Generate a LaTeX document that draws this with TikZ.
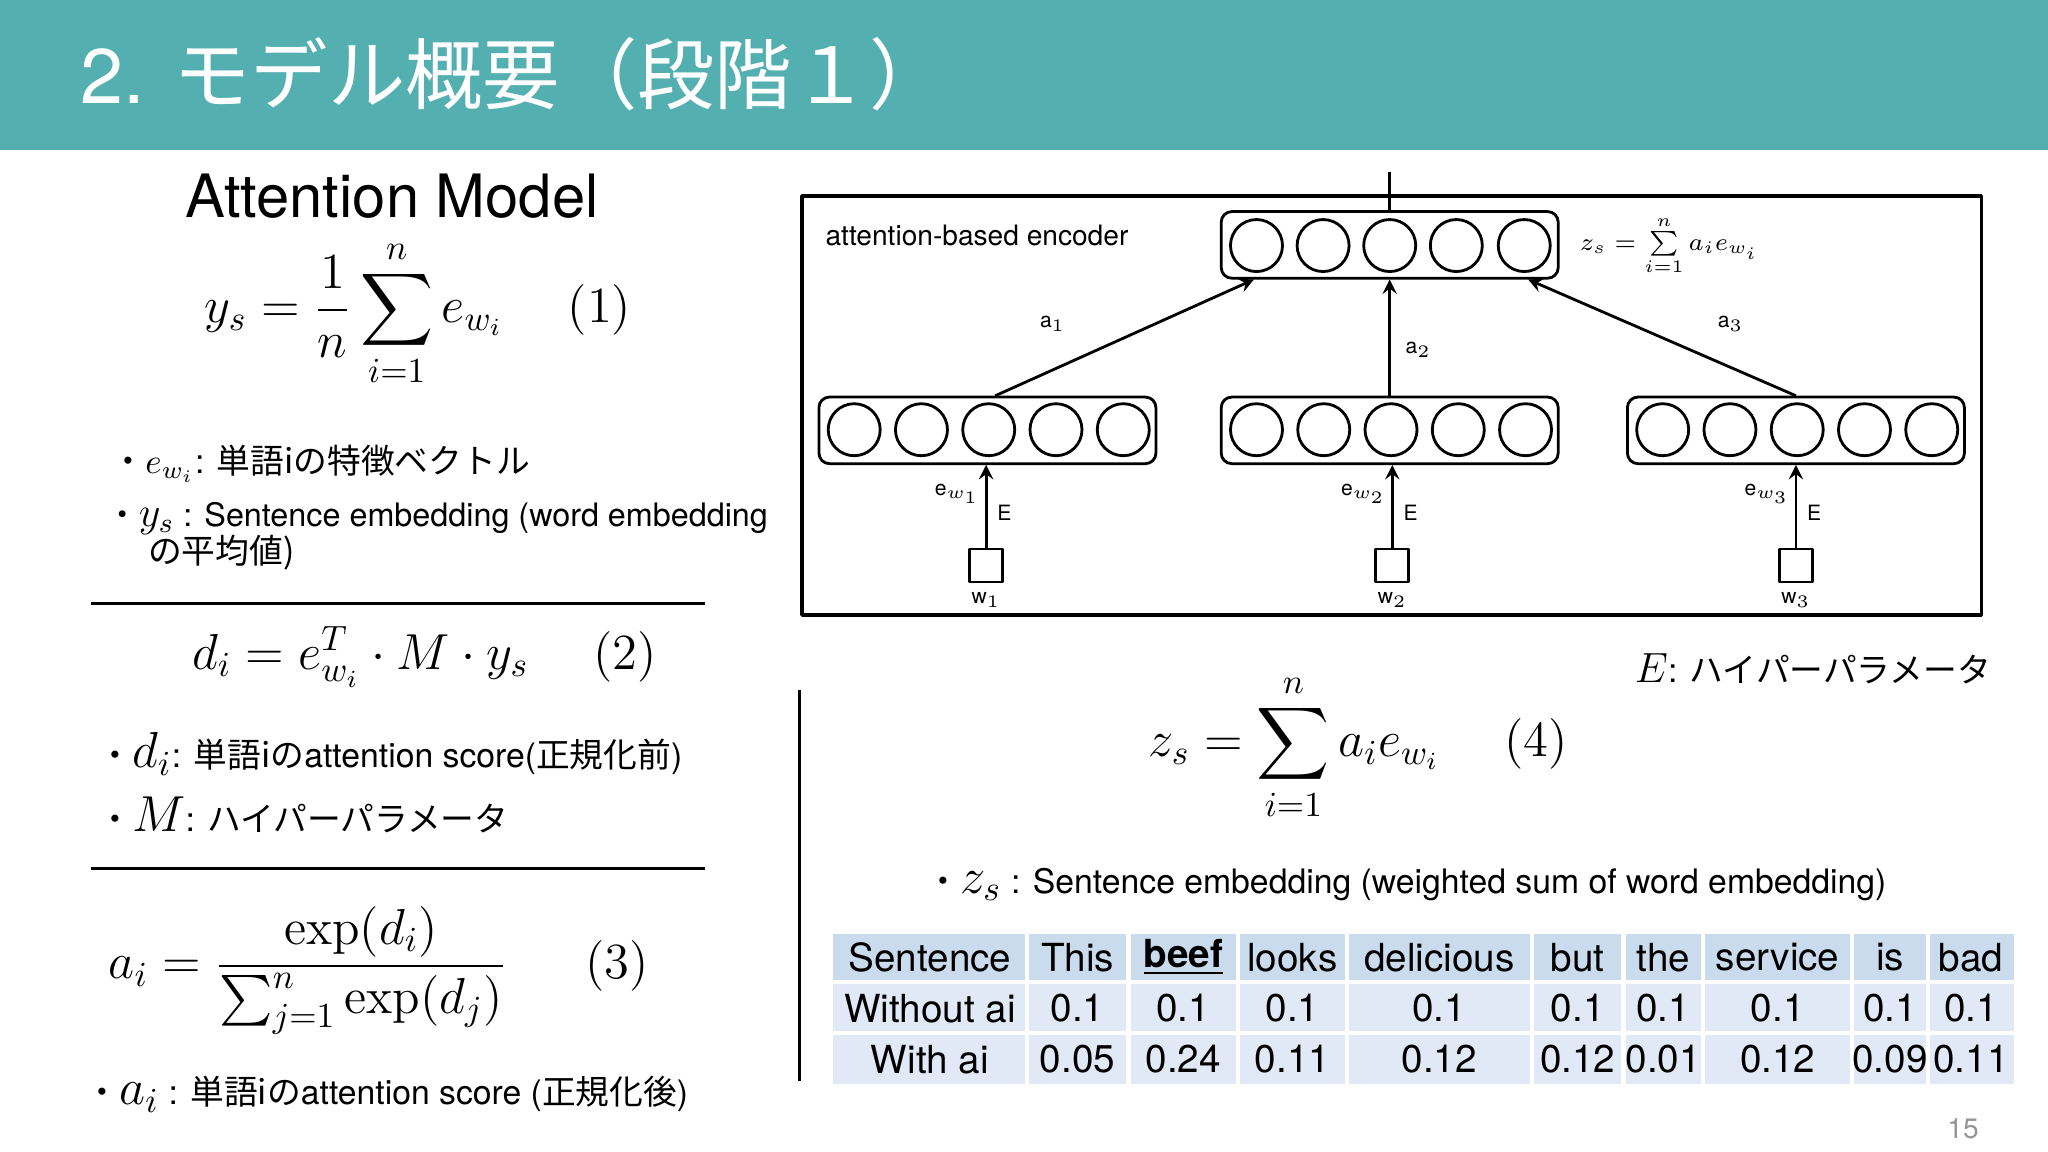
\documentclass[tikz,border=0pt]{standalone}
\usepackage{amsmath}
\usepackage[no-math]{fontspec}
\setmainfont{TeX Gyre Heros}
\newfontfamily\jp{Noto Sans CJK JP}
\usetikzlibrary{positioning}
\definecolor{bandteal}{RGB}{84,176,176}
\definecolor{headblue}{RGB}{203,219,238}
\definecolor{cellblue}{RGB}{224,233,245}
\definecolor{pagenum}{RGB}{150,150,150}
\newcommand{\bul}{{\jp ・}}

\begin{document}
\begin{tikzpicture}[x=0.013061cm, y=-0.013061cm, line join=bevel,
        unitcircle/.style={shape=circle, draw=black, line width=0.8pt, minimum size=0.52cm, inner sep=0pt},
        groupbox/.style={draw=black, line width=0.8pt, rounded corners=3pt},
        wordbox/.style={draw=black, line width=0.8pt, minimum size=0.33cm, inner sep=0pt},
        smalltext/.style={font=\fontsize{6}{7}\selectfont},
        bodytext/.style={font=\fontsize{9.6}{12}\selectfont, anchor=west},
        cell/.style={font=\fontsize{11}{13}\selectfont}]
        \useasboundingbox (0,0) rectangle (1568,882);
        % Title band
        \fill[bandteal] (0,0) rectangle (1568,115);
        \node[anchor=west, text=white, font=\fontsize{22}{26}\selectfont] (title) at (52,57) {2. {\jp モデル概要（段階１）}};
        % Encoder figure background
        \fill[white] (584,132) rectangle (1568,495);
        % Left column
        \node[font=\fontsize{17}{20}\selectfont] (heading) at (300,150) {Attention Model};
        \node[font=\Large] (eqone) at (320,240) {$\displaystyle y_s=\frac{1}{n}\sum_{i=1}^{n}e_{w_i}\quad\ (1)$};
        \node[bodytext] (bulleta) at (76,355) {\bul$e_{w_i}$: {\jp 単語iの特徴ベクトル}};
        \node[bodytext, font=\fontsize{9.2}{12}\selectfont] (bulletb) at (72,397) {\bul{\large$y_s$} : Sentence embedding (word embedding};
        \node[bodytext] (bulletc) at (104,423) {\jp の平均値)};
        \draw[line width=0.8pt] (70,462) -- (540,462);
        \node[font=\Large] (eqtwo) at (325,503) {$d_i=e_{w_i}^{T}\cdot M\cdot y_s\quad\ (2)$};
        \node[bodytext] (bulletd) at (66,577) {\bul{\Large$d_i$}: {\jp 単語iの}attention score({\jp 正規化前})};
        \node[bodytext] (bullete) at (66,624) {\bul{\Large$M$}: {\jp ハイパーパラメータ}};
        \draw[line width=0.8pt] (70,665) -- (540,665);
        \node[font=\Large] (eqthree) at (290,743) {$a_i=\dfrac{\exp(d_i)}{\sum_{j=1}^{n}\exp(d_j)}\quad\ \ (3)$};
        \node[bodytext] (bulletf) at (56,838) {\bul{\Large$a_i$} : {\jp 単語iの}attention score ({\jp 正規化後})};
        \draw[line width=0.8pt] (612,528) -- (612,828);
        % Encoder figure
        \draw[line width=1pt] (614,150) rectangle (1517,471);
        \node[font=\fontsize{8}{9}\selectfont] (enc) at (748,180) {attention-based encoder};
        \draw[groupbox] (935,162) rectangle (1193,213);
        \foreach \i/\x in {1/962,2/1013,3/1064,4/1115,5/1167}
          \node[unitcircle] (t\i) at (\x,188) {};
        \draw[line width=0.8pt] (1064,132) -- (1064,162);
        \node[font=\scriptsize, anchor=west] (zsum) at (1200,188) {$z_s=\sum\limits_{i=1}^{n}a_ie_{w_i}$};
        \foreach \g/\x in {1/627,2/935,3/1246} {
          \draw[groupbox] (\x,304) rectangle ++(258,51);
          \foreach \k in {1,...,5}
            \node[unitcircle] (b\g\k) at (\x+27+51.5*\k-51.5,329) {};
        }
        \coordinate (topl) at (960,214);
        \coordinate (topm) at (1064,214);
        \coordinate (topr) at (1170,214);
        \coordinate (botl) at (762,303);
        \coordinate (botm) at (1064,303);
        \coordinate (botr) at (1375,303);
        \draw[-stealth, line width=0.8pt] (botl) -- (topl);
        \draw[-stealth, line width=0.8pt] (botm) -- (topm);
        \draw[-stealth, line width=0.8pt] (botr) -- (topr);
        \node[smalltext] (aone) at (806,248) {a$_1$};
        \node[smalltext] (atwo) at (1086,268) {a$_2$};
        \node[smalltext] (athree) at (1325,248) {a$_3$};
        \foreach \g/\x in {1/755,2/1066,3/1375} {
          \node[wordbox] (w\g) at (\x,433) {};
          \node[smalltext, below=-1pt of w\g] {w$_\g$};
          \coordinate (in\g) at (\x,356);
          \draw[-stealth, line width=0.8pt] (w\g) -- (in\g);
          \node[smalltext] at (\x-22,378) {e$_{w_\g}$};
          \node[smalltext] at (\x+14,393) {E};
        }
        \node[font=\fontsize{9.6}{12}\selectfont] (hyper) at (1388,512) {{\large$E$}: {\jp ハイパーパラメータ}};
        \node[font=\Large] (eqfour) at (1040,572) {$\displaystyle z_s=\sum_{i=1}^{n}a_ie_{w_i}\quad\ (4)$};
        \node[bodytext] (bulletg) at (700,677) {\bul{\Large$z_s$} : Sentence embedding (weighted sum of word embedding)};
        % Table
        \fill[headblue] (638,715) rectangle (1542,752);
        \fill[cellblue] (638,752) rectangle (1542,830);
        \foreach \x in {786,864,948,1031,1173,1243,1304,1418,1476}
          \draw[white, line width=1.2pt] (\x,715) -- (\x,830);
        \foreach \y in {752,791}
          \draw[white, line width=1.2pt] (638,\y) -- (1542,\y);
        \foreach \a/\b/\t/\u/\v [count=\c] in {638/786/Sentence/Without ai/With ai, 786/864/This/0.1/0.05, 864/948/\underline{\textbf{beef}}/0.1/0.24,
            948/1031/looks/0.1/0.11, 1031/1173/delicious/0.1/0.12, 1173/1243/but/0.1/0.12, 1243/1304/the/0.1/0.01,
            1304/1418/service/0.1/0.12, 1418/1476/is/0.1/0.09, 1476/1542/bad/0.1/0.11} {
          \node[cell] (h\c) at ({(\a+\b)/2},733) {\t};
          \node[cell] (r\c) at ({(\a+\b)/2},772) {\u};
          \node[cell] (s\c) at ({(\a+\b)/2},811) {\v};
        }
        \node[text=pagenum, font=\fontsize{8}{9}\selectfont] (page) at (1503,864) {15};
\end{tikzpicture}
\end{document}
